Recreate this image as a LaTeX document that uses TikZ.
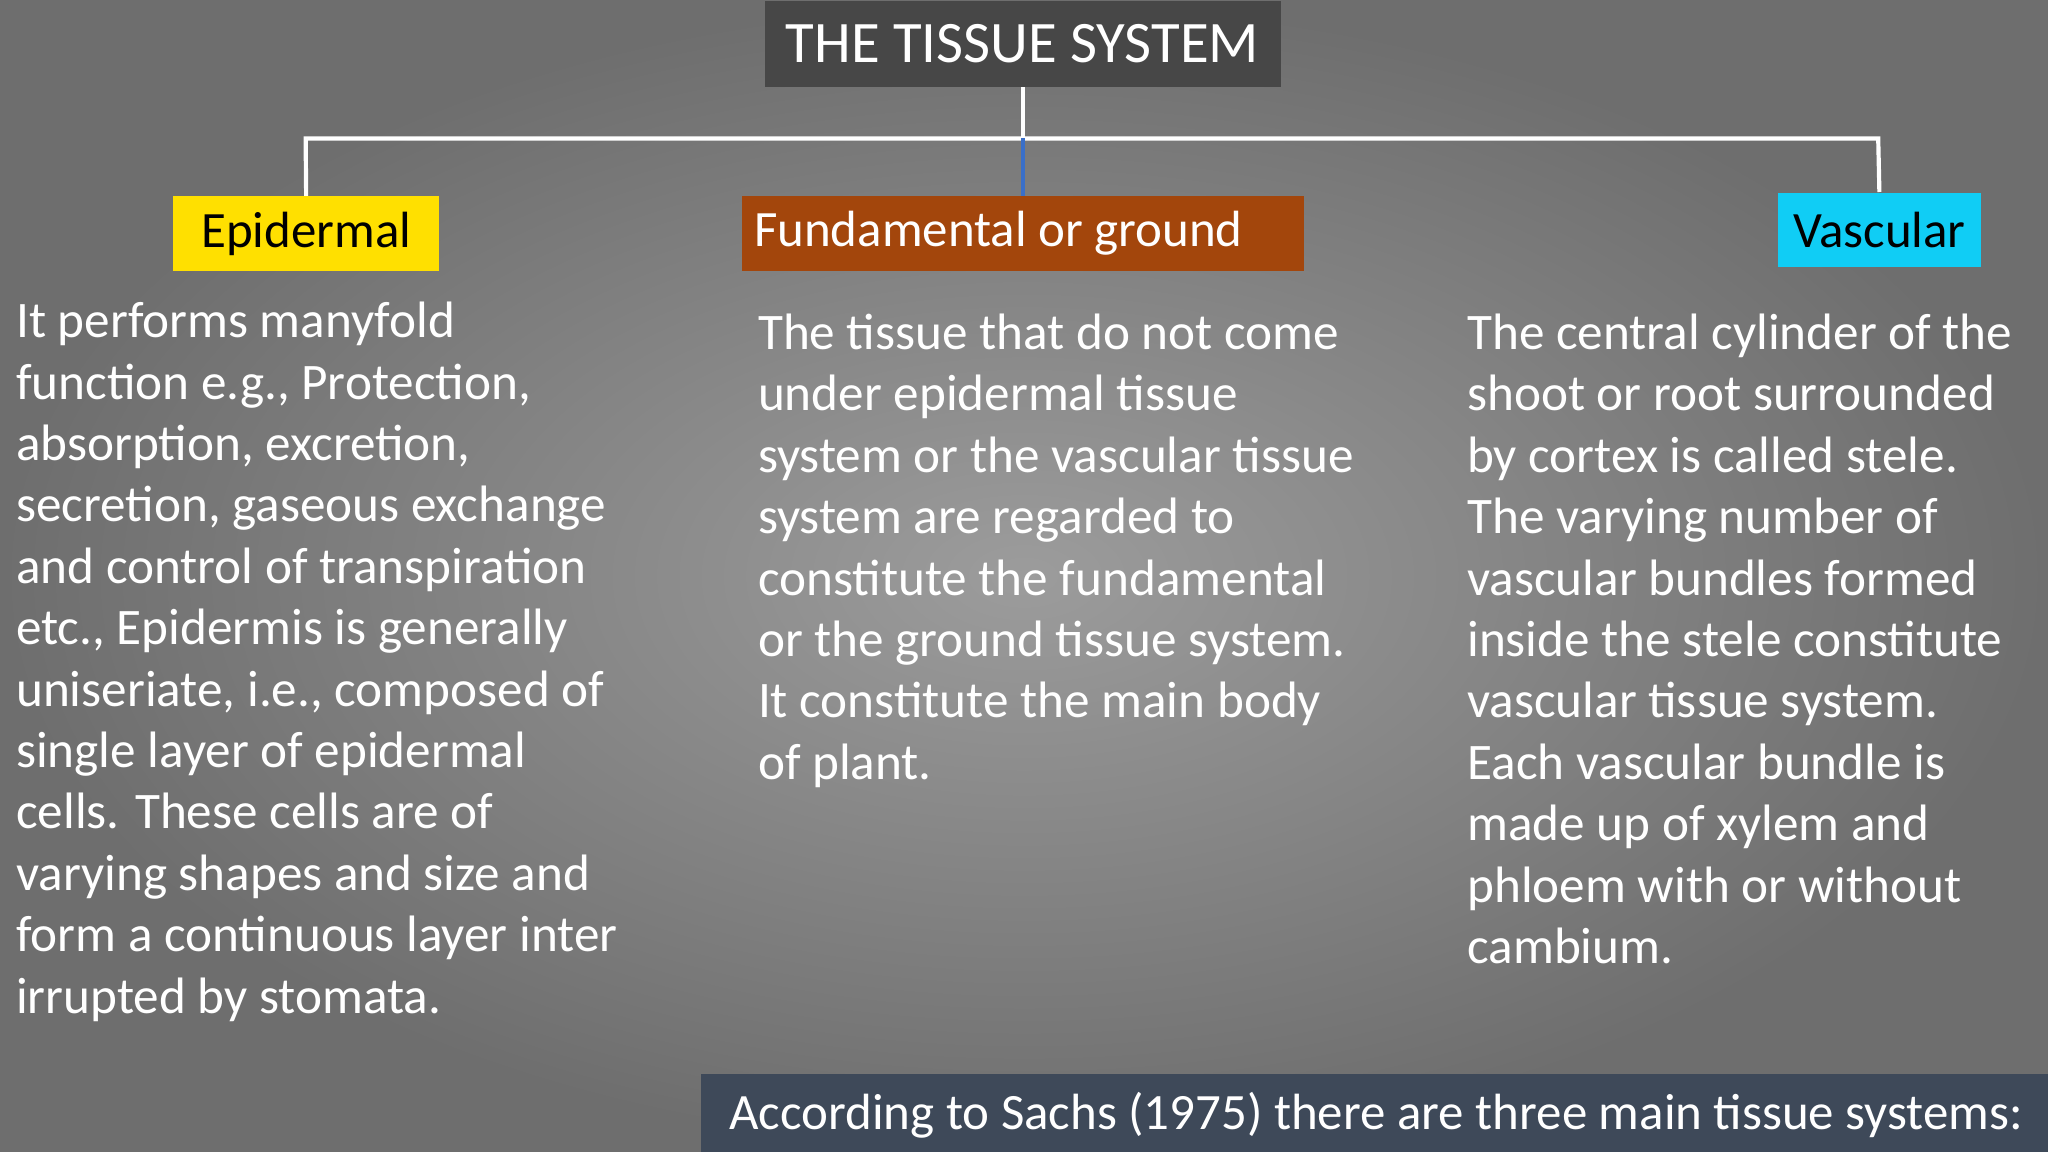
\documentclass[tikz,border=0pt]{standalone}
\usepackage{fontspec}
\setmainfont{Carlito}
\definecolor{bgc}{HTML}{9C9C9C}
\definecolor{bge}{HTML}{6E6E6E}
\definecolor{titlec}{HTML}{474747}
\definecolor{yel}{HTML}{FFE000}
\definecolor{brn}{HTML}{A3460C}
\definecolor{cyn}{HTML}{10CDF5}
\definecolor{barc}{HTML}{3E4959}
\definecolor{bluel}{HTML}{3A6FC8}
\begin{document}
\begin{tikzpicture}[x=0.5pt,y=-0.5pt,
  hdr/.style={draw=none,minimum height=28.5pt,inner sep=0pt,font=\fontsize{19.5}{22}\selectfont},
  body/.style={anchor=north west,align=left,inner sep=0pt,text=white,font=\fontsize{19.6}{23.5}\selectfont},
  conn/.style={white,line width=1.6pt}]
\shade[inner color=bgc,outer color=bge] (0,0) rectangle (1568,882);
\useasboundingbox (0,0) rectangle (1568,882);
\node[fill=titlec,text=white,minimum width=197.5pt,minimum height=33pt,font=\fontsize{22.5}{26}\selectfont,inner sep=0pt,anchor=north west] (title) at (585,0) {THE TISSUE SYSTEM};
\node[hdr,fill=yel,minimum width=102pt,anchor=north west] (epi) at (132,150) {Epidermal};
\node[hdr,fill=brn,text=white,minimum width=215pt,anchor=north west] (fund) at (568,150) {\hspace*{-19pt}Fundamental or ground};
\node[hdr,fill=cyn,minimum width=77.5pt,anchor=north west] (vas) at (1361,147) {Vascular};
\coordinate (j) at (783,106);
\draw[conn] (title.south -| j) -- (j);
\draw[conn] (j) -- (234,106) -- (epi.north);
\draw[conn] (j) -- (1438,106) -- (vas.north);
\draw[bluel,line width=1.6pt] (j) -- (fund.north -| j);
\node[body] (t1) at (12,231) {It performs manyfold\\function e.g., Protection,\\absorption, excretion,\\secretion, gaseous exchange\\and control of transpiration\\etc., Epidermis is generally\\uniseriate, i.e., composed of\\single layer of epidermal\\cells. These cells are of\\varying shapes and size and\\form a continuous layer inter\\irrupted by stomata.};
\node[body] (t2) at (580,240) {The tissue that do not come\\under epidermal tissue\\system or the vascular tissue\\system are regarded to\\constitute the fundamental\\or the ground tissue system.\\It constitute the main body\\of plant.};
\node[body] (t3) at (1123,240) {The central cylinder of the\\shoot or root surrounded\\by cortex is called stele.\\The varying number of\\vascular bundles formed\\inside the stele constitute\\vascular tissue system.\\Each vascular bundle is\\made up of xylem and\\phloem with or without\\cambium.};
\fill[barc] (537,822) rectangle (1568,882);
\node[text=white,font=\fontsize{19.5}{22}\selectfont,anchor=west,inner sep=0pt] (bar) at (558,854) {According to Sachs (1975) there are three main tissue systems:};
\end{tikzpicture}
\end{document}
